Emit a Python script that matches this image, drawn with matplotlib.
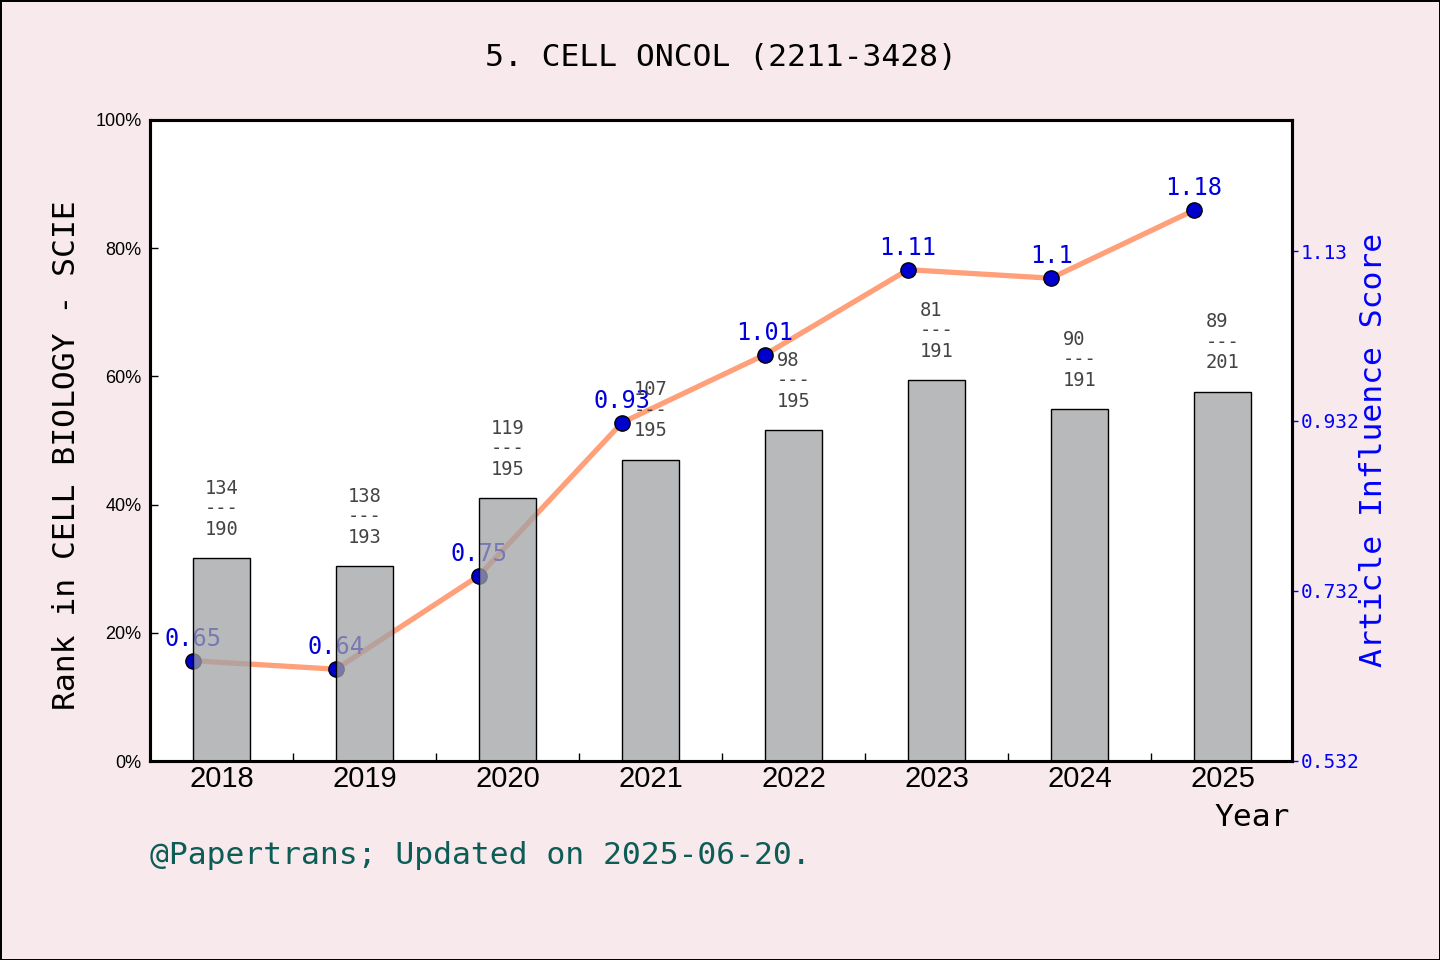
import matplotlib
matplotlib.use("Agg")
import matplotlib.pyplot as plt
import numpy as np
from matplotlib.ticker import FixedLocator

# ---- data ----
years = ['2018', '2019', '2020', '2021', '2022', '2023', '2024', '2025']
rank = [134, 138, 119, 107, 98, 81, 90, 89]
total = [190, 193, 195, 195, 195, 191, 191, 201]
rank_pct = [31.6, 30.4, 41.0, 47.0, 51.6, 59.4, 54.9, 57.6]
ais = [0.65, 0.64, 0.75, 0.93, 1.01, 1.11, 1.1, 1.18]
pct_ticks = [0, 20, 40, 60, 80, 100]
ais_ticks = [0.532, 0.732, 0.932, 1.132]

title = "5. CELL ONCOL (2211-3428)"
ylabel_left = "Rank in CELL BIOLOGY - SCIE"
ylabel_right = "Article Influence Score"
footer = "@Papertrans; Updated on 2025-06-20."

MONO = "DejaVu Sans Mono"
SANS = "Liberation Sans"
bg = "#f8e9ec"
BIG = 22.6

fig = plt.figure(figsize=(14.4, 9.6), dpi=100, facecolor=bg,
                 edgecolor="black", linewidth=2)
ax = fig.add_axes([150/1440, 1-761/960, (1292-150)/1440, (761-120)/960])
ax2 = ax.twinx()
ax2.patch.set_visible(True)
ax2.set_facecolor("white")

x = np.arange(len(years))

# line on the secondary axis (drawn underneath)
ax2.plot(x, ais, color="#ffa07a", lw=3.8, zorder=2, solid_capstyle="round")
ax2.plot(x, ais, 'o', ms=11, mfc="#0000cc", mec="black", mew=1, zorder=3)
for xi, v in zip(x, ais):
    ax2.annotate(f"{v:g}", (xi, v), xytext=(0, 7), textcoords="offset points",
                 ha="center", va="bottom", fontsize=17, family=MONO,
                 color="#0000dd", zorder=4)
ax2.set_ylim(0.532, 0.532 + 641/850)
ax2.yaxis.set_major_locator(FixedLocator(ais_ticks))
ax2.set_yticklabels([f"{t:.3g}" for t in ais_ticks])
ax2.tick_params(axis="y", direction="out", length=4, width=1, colors="blue",
                labelsize=14, pad=2)
for lab in ax2.get_yticklabels():
    lab.set_family(MONO)

# bars on the primary axis (drawn on top, semi-transparent)
ax.set_zorder(ax2.get_zorder() + 1)
ax.patch.set_visible(False)
bw = 0.4
ax.bar(x + bw/2, rank_pct, width=bw, color=(161/255, 162/255, 165/255, 0.75),
       edgecolor="black", linewidth=1, zorder=2)
for xi, h, r, t in zip(x, rank_pct, rank, total):
    ax.annotate(f"{r}\n---\n{t}", (xi + bw/2, h), xytext=(0, 14),
                textcoords="offset points", ha="center", va="bottom",
                multialignment="left", fontsize=13.5, family=MONO,
                color="#444444", linespacing=1.1, zorder=5)

ax.set_xlim(-0.3, 7.685)
ax.set_ylim(0, 100)
ax.set_yticks(pct_ticks)
ax.set_yticklabels([f"{t}%" for t in pct_ticks], family=SANS, fontsize=13)
ax.tick_params(axis="y", direction="in", length=6, width=1, pad=6)
ax.set_xticks(x + bw/2)
ax.set_xticklabels(years, family=SANS, fontsize=21)
ax.tick_params(axis="x", length=0, pad=3)
ax.set_xticks(x[:-1] + bw/2 + 0.5, minor=True)
ax.tick_params(axis="x", which="minor", direction="in", length=6, width=1)

for a in (ax, ax2):
    for s in a.spines.values():
        s.set_linewidth(2.2)
        s.set_color("black")

fig.text(721/1440, 1-57/960, title, ha="center", va="center",
         fontsize=BIG, family=MONO, color="black")
fig.text(67/1440, 1-455/960, ylabel_left, ha="center", va="center",
         rotation=90, fontsize=BIG, family=MONO, color="black")
fig.text(1373/1440, 1-450/960, ylabel_right, ha="center", va="center",
         rotation=90, fontsize=BIG, family=MONO, color="blue")
fig.text(1290/1440, 1-817/960, "Year", ha="right", va="center",
         fontsize=BIG, family=MONO, color="black")
fig.text(150/1440, 1-855/960, footer, ha="left", va="center",
         fontsize=BIG, family=MONO, color="#0d5c55")

fig.savefig("out.png", dpi=100, facecolor=bg, edgecolor="black")
